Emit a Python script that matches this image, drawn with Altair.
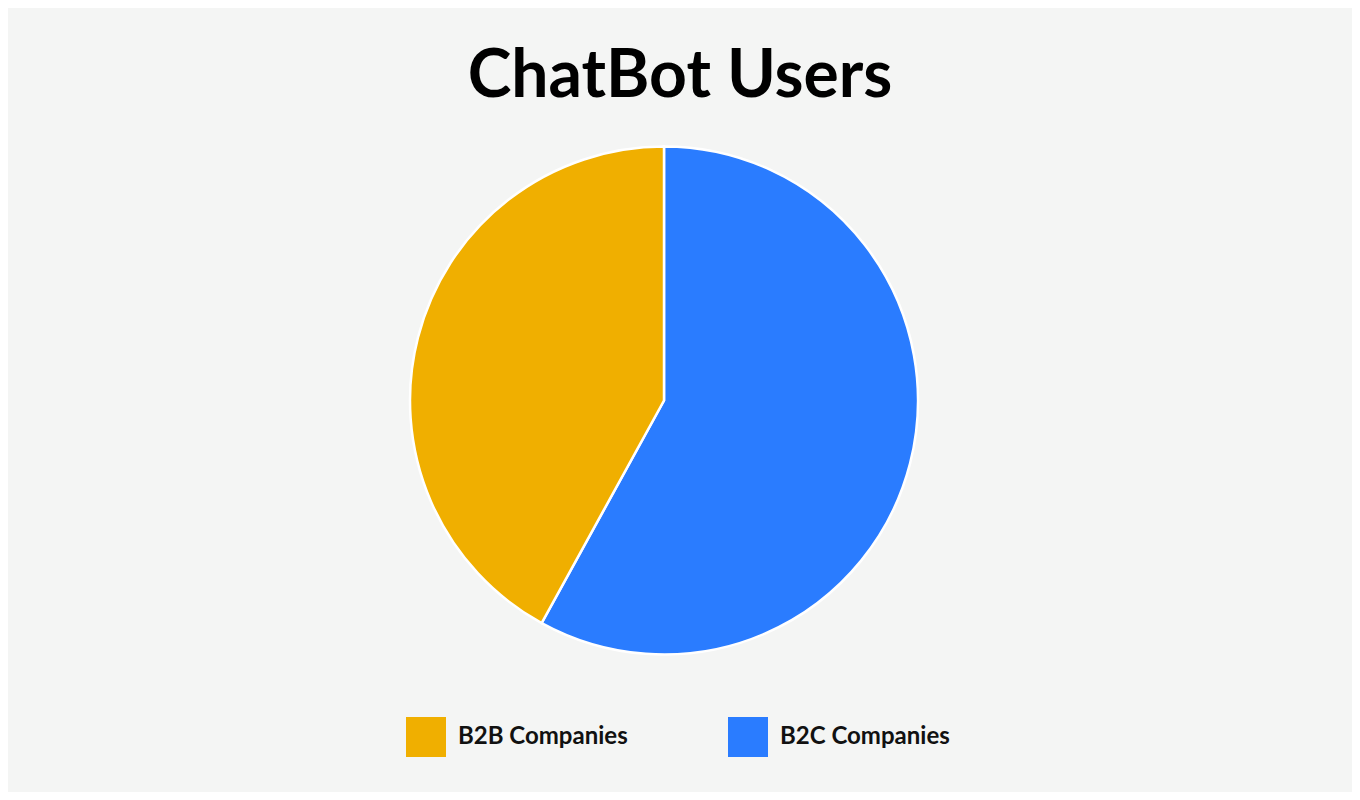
import altair as alt
import pandas as pd

categories = ["B2C Companies", "B2B Companies"]
shares = [58, 42]
order = [1, 2]
legend_order = ["B2B Companies", "B2C Companies"]
legend_colors = ["#F0AF00", "#2A7CFF"]

df = pd.DataFrame({"category": categories, "share": shares, "order": order})

pie = alt.Chart(df).mark_arc(radius=254, stroke="white", strokeWidth=2.5).encode(
    theta=alt.Theta("share:Q", stack=True),
    order=alt.Order("order:Q"),
    color=alt.Color(
        "category:N",
        scale=alt.Scale(domain=legend_order, range=legend_colors),
        legend=alt.Legend(
            title=None,
            orient="none",
            legendX=398,
            legendY=709,
            direction="horizontal",
            symbolType="square",
            symbolSize=1600,
            symbolStrokeWidth=0,
            symbolOpacity=1,
            labelFont="Lato",
            labelFontSize=24,
            labelFontWeight="bold",
            labelColor="#111111",
            labelOffset=12,
            labelLimit=400,
            columnPadding=100,
        ),
    ),
    x=alt.value(656),
    y=alt.value(392.5),
)

title = alt.Chart(pd.DataFrame({"t": ["ChatBot Users"]})).mark_text(
    font="Lato", fontSize=66, fontWeight="bold", color="#000000",
    align="center", baseline="alphabetic",
).encode(text="t:N", x=alt.value(672), y=alt.value(89))

chart = alt.layer(pie, title).properties(
    width=1344, height=784, background="#F4F5F4", padding=0,
    autosize=alt.AutoSizeParams(type="none"),
).configure_view(stroke=None)

chart.save("out.html", embed_options={"renderer": "svg", "actions": False})
